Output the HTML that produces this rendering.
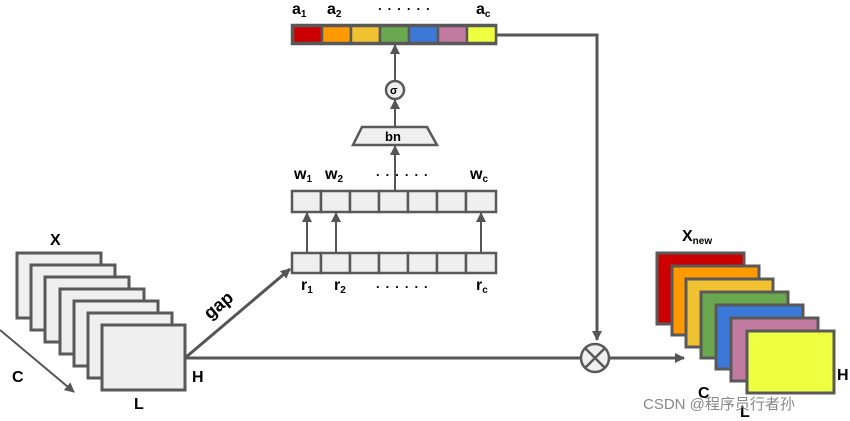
<!DOCTYPE html>
<html><head><style>body{margin:0;background:#fff}svg{display:block}text{font-family:"Liberation Sans","Noto Sans CJK SC",sans-serif;font-weight:bold;fill:#000}</style></head><body>
<svg width="850" height="421" viewBox="0 0 850 421">
<defs><marker id="ah" markerWidth="10" markerHeight="10" refX="9" refY="5" orient="auto" markerUnits="userSpaceOnUse"><path d="M0,0 L10,5 L0,10 z" fill="#555"/></marker></defs>
<g stroke="#595959" stroke-width="3" fill="#efefef">
<rect x="17" y="253" width="84" height="65"/><rect x="31" y="265" width="84" height="65"/><rect x="45" y="277" width="84" height="65"/><rect x="60" y="289" width="84" height="65"/><rect x="74" y="301" width="84" height="65"/><rect x="88" y="313" width="84" height="65"/><rect x="102" y="325" width="83" height="65"/>
</g>
<line x1="0" y1="330" x2="74" y2="392" stroke="#555" stroke-width="2" marker-end="url(#ah)"/>
<text x="12" y="382" font-size="16">C</text><text x="50" y="245" font-size="16">X</text><text x="134" y="409" font-size="16">L</text><text x="192" y="382" font-size="16">H</text>
<line x1="185" y1="358" x2="580" y2="358" stroke="#555" stroke-width="3"/>
<line x1="185" y1="358" x2="290" y2="269" stroke="#555" stroke-width="3" marker-end="url(#ah)"/>
<text x="0" y="0" font-size="18" transform="translate(210,320) rotate(-40)">gap</text>
<g stroke="#595959" stroke-width="2.5">
<rect x="292" y="25" width="204" height="19" fill="#fff"/>
<rect x="293" y="26" width="29" height="17" fill="#cc0000"/><rect x="322" y="26" width="29" height="17" fill="#ff9900"/><rect x="351" y="26" width="29" height="17" fill="#f1c232"/><rect x="380" y="26" width="29" height="17" fill="#6aa84f"/><rect x="409" y="26" width="29" height="17" fill="#3c78d8"/><rect x="438" y="26" width="29" height="17" fill="#c27ba0"/><rect x="467" y="26" width="29" height="17" fill="#eeff41"/>
</g>
<g stroke="#595959" stroke-width="2.5" fill="#efefef">
<rect x="292" y="191" width="29" height="21"/><rect x="321" y="191" width="29" height="21"/><rect x="350" y="191" width="29" height="21"/><rect x="379" y="191" width="29" height="21"/><rect x="408" y="191" width="29" height="21"/><rect x="437" y="191" width="29" height="21"/><rect x="466" y="191" width="30" height="21"/>
<rect x="292" y="253" width="29" height="20"/><rect x="321" y="253" width="29" height="20"/><rect x="350" y="253" width="29" height="20"/><rect x="379" y="253" width="29" height="20"/><rect x="408" y="253" width="29" height="20"/><rect x="437" y="253" width="29" height="20"/><rect x="466" y="253" width="30" height="20"/>
<path d="M362,127 L427,127 L437,145 L353,145 Z"/>
<circle cx="395" cy="90" r="9"/>
</g>
<text x="385" y="141" font-size="13">bn</text><text x="390" y="94" font-size="11">σ</text>
<g stroke="#555" stroke-width="2" marker-end="url(#ah)">
<line x1="307" y1="253" x2="307" y2="213"/><line x1="336" y1="253" x2="336" y2="213"/><line x1="481" y1="253" x2="481" y2="213"/>
<line x1="395" y1="191" x2="395" y2="146"/><line x1="395" y1="127" x2="395" y2="100"/><line x1="395" y1="81" x2="395" y2="45"/>
</g>
<g font-size="16"><text x="292" y="14">a<tspan font-size="10" dy="3">1</tspan></text><text x="327" y="14">a<tspan font-size="10" dy="3">2</tspan></text><text x="476" y="14">a<tspan font-size="10" dy="3">c</tspan></text>
<text x="294" y="179">w<tspan font-size="10" dy="3">1</tspan></text><text x="325" y="179">w<tspan font-size="10" dy="3">2</tspan></text><text x="470" y="179">w<tspan font-size="10" dy="3">c</tspan></text>
<text x="301" y="290">r<tspan font-size="10" dy="3">1</tspan></text><text x="334" y="290">r<tspan font-size="10" dy="3">2</tspan></text><text x="476" y="290">r<tspan font-size="10" dy="3">c</tspan></text></g>
<g font-size="13"><text x="378" y="10" letter-spacing="6">......</text><text x="376" y="176" letter-spacing="6">......</text><text x="376" y="288" letter-spacing="6">......</text></g>
<polyline points="496,35 597,35 597,340" fill="none" stroke="#555" stroke-width="3" marker-end="url(#ah)"/>
<circle cx="595" cy="358" r="14" fill="#efefef" stroke="#595959" stroke-width="2.5"/>
<path d="M585,348 L605,368 M605,348 L585,368" stroke="#595959" stroke-width="2.5"/>
<line x1="609" y1="358" x2="684" y2="358" stroke="#555" stroke-width="3" marker-end="url(#ah)"/>
<g stroke="#595959" stroke-width="3">
<rect x="657" y="253" width="87" height="71" fill="#cc0000"/><rect x="672" y="266" width="87" height="69" fill="#ff9900"/><rect x="686" y="279" width="87" height="68" fill="#f1c232"/><rect x="701" y="292" width="87" height="66" fill="#6aa84f"/><rect x="716" y="305" width="87" height="64" fill="#3c78d8"/><rect x="731" y="318" width="87" height="63" fill="#c27ba0"/><rect x="747" y="331" width="87" height="62" fill="#eeff41"/>
</g>
<text x="682" y="241" font-size="16">X<tspan font-size="10" dy="3">new</tspan></text>
<text x="837" y="380" font-size="16">H</text><text x="698" y="398" font-size="16">C</text><text x="740" y="417" font-size="16">L</text>
<text x="643" y="409" font-size="15" style="font-weight:normal;fill:#888">CSDN @程序员行者孙</text>
</svg>
</body></html>
